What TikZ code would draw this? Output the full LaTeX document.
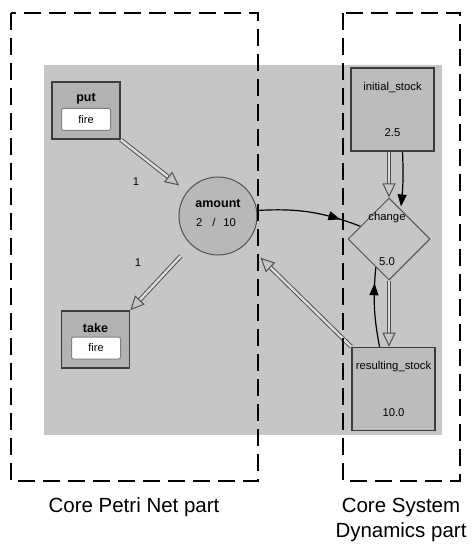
\documentclass[tikz,border=0pt]{standalone}
\usepackage{fontspec}
\setmainfont{Liberation Sans}
\usetikzlibrary{shapes.geometric,arrows.meta,decorations.markings}

\definecolor{netbg}{HTML}{C6C6C6}
\definecolor{transfill}{HTML}{B2B2B2}
\definecolor{stockfill}{HTML}{BCBCBC}
\definecolor{placefill}{HTML}{B8B8B8}
\definecolor{rimgray}{HTML}{3C3C3C}
\definecolor{arcgray}{HTML}{505050}
\definecolor{arcfill}{HTML}{DCDCDC}

\tikzset{
  partbox/.style={draw=black, line width=2.4pt, dash pattern=on 17pt off 8pt},
  transbox/.style={draw=rimgray, line width=1.6pt, fill=transfill, minimum width=68pt, minimum height=57pt, inner sep=0pt},
  firebtn/.style={draw=gray, line width=1pt, fill=white, rounded corners=2pt, minimum width=49pt, minimum height=22pt, inner sep=0pt, font=\fontsize{11}{13}\selectfont},
  stockbox/.style={draw=rimgray, line width=1.6pt, fill=stockfill, minimum size=83pt, inner sep=0pt},
  smalltext/.style={inner sep=0pt, font=\fontsize{11.3}{13}\selectfont},
  boldtext/.style={inner sep=0pt, font=\fontsize{12.5}{14}\selectfont\bfseries},
  parttext/.style={inner sep=0pt, align=center, font=\fontsize{20.5}{25}\selectfont},
  hollowarc/.style={draw=arcgray, line width=1pt, double=arcfill, double distance=2.4pt, -{Triangle[open, length=14pt, width=13pt]}},
  flowarc/.style={draw=black, line width=1.2pt},
  midtip/.style={postaction={decorate}, decoration={markings, mark=at position #1 with {\arrow{Triangle[length=12pt, width=9pt]}}}}
}

\begin{document}
\begin{tikzpicture}[x=1pt, y=-1pt]
  \useasboundingbox (0,0) rectangle (474,545);
  \fill[netbg] (44,65) rectangle (442,435);

  \node[transbox] (put) at (86,110.5) {};
  \node[boldtext] at (86,99) {put};
  \node[firebtn] (putfire) at (86,119.5) {fire};

  \node[transbox] (take) at (95.5,339.5) {};
  \node[boldtext] at (95.5,328) {take};
  \node[firebtn] (takefire) at (96,348) {fire};

  \node[circle, draw=arcgray, line width=1pt, fill=placefill, minimum size=78pt, inner sep=0pt] (amount) at (218,216) {};
  \node[boldtext] at (218,203) {amount};
  \node[smalltext] at (216,222) {2\hspace{10pt}/\hspace{8pt}10};

  \node[stockbox] (initial) at (392.5,109.5) {};
  \node[smalltext] at (392.5,88) {initial\_stock};
  \node[smalltext] at (392.5,133) {2.5};

  \node[diamond, draw=arcgray, line width=1pt, fill=netbg, minimum width=82pt, minimum height=82pt, inner sep=0pt] (change) at (389,239) {};
  \node[smalltext] at (387,218) {change};
  \node[smalltext] at (387,262) {5.0};

  \node[stockbox] (result) at (393.5,389) {};
  \node[smalltext] at (393.5,367) {resulting\_stock};
  \node[smalltext] at (393.5,413) {10.0};

  \draw[hollowarc, shorten >=10pt] (put.south east) -- (amount);
  \draw[hollowarc, shorten <=15pt] (amount) -- (take.north east);
  \draw[hollowarc, shorten >=20pt] (result.north west) -- (amount);
  \draw[hollowarc] (initial.south -| change.north) -- (change.north);
  \draw[hollowarc] (change.south) -- (change.south |- result.north);

  \draw[flowarc, -{Triangle[length=12pt, width=9pt]}] ([xshift=10pt]initial.south) to[bend left=4] ([xshift=12pt, yshift=-9pt]change.north);
  \draw[flowarc, midtip=0.8] (amount.8) to[bend left=12] (change.156);
  \draw[flowarc, midtip=0.8] ([xshift=-14pt]result.north) to[bend left=8] (change.245);

  \node[smalltext] (putw) at (136,182) {1};
  \node[smalltext] (takew) at (138,263) {1};

  \draw[partbox] (11,13) rectangle (258,481);
  \draw[partbox] (343,13) rectangle (460,481);
  \node[parttext] (petri) at (134,507) {Core Petri Net part};
  \node[parttext] (sysdyn) at (401,519.5) {Core System\\Dynamics part};
\end{tikzpicture}
\end{document}
